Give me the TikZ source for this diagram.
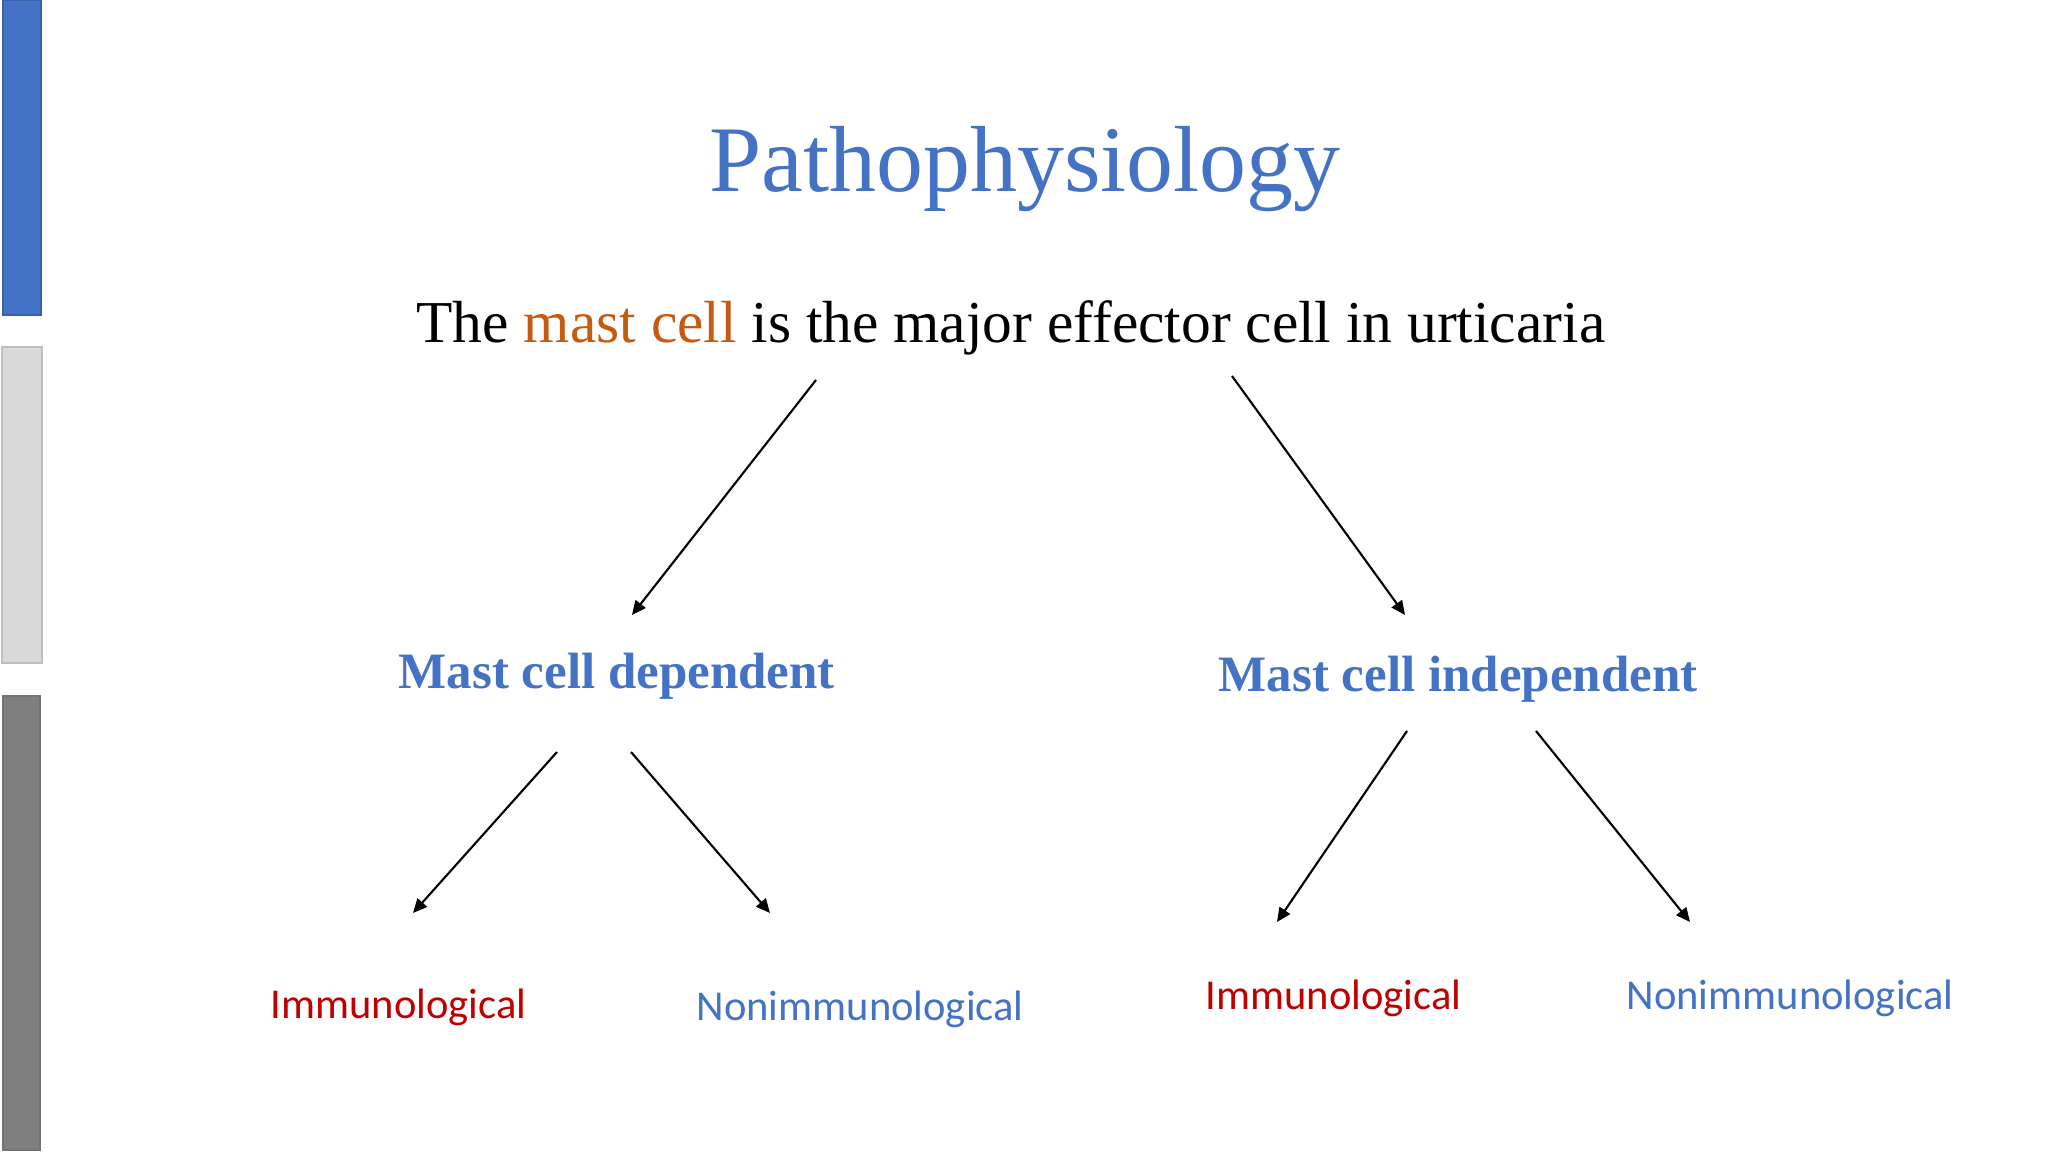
\documentclass[tikz,border=0pt]{standalone}
\usepackage{fontspec}
\setmainfont{Liberation Serif}
\newfontfamily\calibri{Carlito}
\usepackage{xcolor}
\usetikzlibrary{arrows.meta, positioning}
\definecolor{accentblue}{HTML}{4472C4}
\definecolor{mastorange}{HTML}{C55A11}
\definecolor{immred}{HTML}{C00000}
\definecolor{barlight}{HTML}{D9D9D9}
\definecolor{bardark}{HTML}{7F7F7F}

\begin{document}
\begin{tikzpicture}[
    x=0.01cm, y=-0.01cm,
    txt/.style={inner sep=0pt, anchor=base west},
    title/.style={inner sep=0pt, anchor=base, text=accentblue, font=\fontsize{26.7}{32}\selectfont},
    lead/.style={inner sep=0pt, anchor=base, font=\fontsize{16.9}{20}\selectfont},
    branch/.style={txt, text=accentblue, font=\fontsize{14.5}{17}\selectfont\bfseries},
    immuno/.style={txt, text=immred, font=\calibri\fontsize{12.1}{14}\selectfont},
    nonimmuno/.style={txt, text=accentblue, font=\calibri\fontsize{12.1}{14}\selectfont},
    arrow/.style={-{Triangle[length=4pt, width=3.6pt]}, line width=0.6pt}
]
\useasboundingbox (0,0) rectangle (2048,1152);
\fill[white] (0,0) rectangle (2048,1152);

\draw[fill=accentblue, draw=accentblue!85!black, line width=0.3pt] (3,0) rectangle (41,315);
\draw[fill=barlight, draw=black!25, line width=0.6pt] (2,347) rectangle (42,663);
\draw[fill=bardark, draw=black!55, line width=0.3pt] (3,696) rectangle (40,1150);

\node[title] (title) at (1025,192) {Pathophysiology};
\node[lead] (lead) at (1011,343) {The \textcolor{mastorange}{mast cell} is the major effector cell in urticaria};
\node[branch] (dep) at (398,688) {Mast cell dependent};
\node[branch] (indep) at (1218,692) {Mast cell independent};
\node[immuno] (imm1) at (270,1018) {Immunological};
\node[nonimmuno] (non1) at (696,1020) {Nonimmunological};
\node[immuno] (imm2) at (1205,1009) {Immunological};
\node[nonimmuno] (non2) at (1626,1009) {Nonimmunological};

\coordinate (lead-l) at (816,380);
\coordinate (lead-r) at (1232,376);
\coordinate (dep-in) at (632,615);
\coordinate (indep-in) at (1405,615);
\coordinate (dep-l) at (557,752);
\coordinate (dep-r) at (631,752);
\coordinate (imm1-in) at (413,913);
\coordinate (non1-in) at (770,913);
\coordinate (indep-l) at (1407,731);
\coordinate (indep-r) at (1536,731);
\coordinate (imm2-in) at (1277,922);
\coordinate (non2-in) at (1690,922);

\draw[arrow] (lead-l) -- (dep-in);
\draw[arrow] (lead-r) -- (indep-in);
\draw[arrow] (dep-l) -- (imm1-in);
\draw[arrow] (dep-r) -- (non1-in);
\draw[arrow] (indep-l) -- (imm2-in);
\draw[arrow] (indep-r) -- (non2-in);

\end{tikzpicture}
\end{document}
